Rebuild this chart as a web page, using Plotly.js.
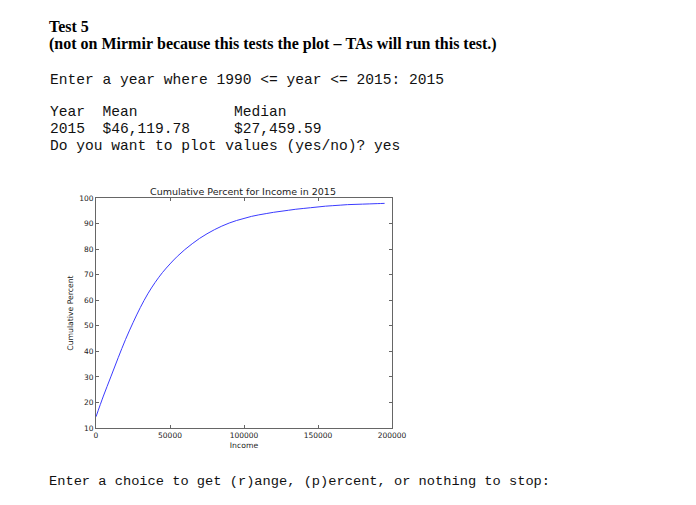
<!DOCTYPE html>
<html>
<head>
<meta charset="utf-8">
<script src="https://cdn.plot.ly/plotly-3.0.1.min.js"></script>
<style>
  html, body { margin: 0; padding: 0; background: #fff; }
  #chart { width: 696px; height: 505px; }
</style>
</head>
<body>
<div id="chart"></div>
<script>
// ---- data ----
const incomeValues = [0, 5000, 10000, 15000, 20000, 25000, 30000, 35000, 40000, 45000,
  50000, 55000, 60000, 65000, 70000, 75000, 80000, 85000, 90000, 95000,
  100000, 105000, 110000, 115000, 120000, 125000, 130000, 135000, 140000, 145000,
  150000, 155000, 160000, 165000, 170000, 175000, 180000, 185000, 190000, 195000];
const cumulativePercent = [14.4, 22.5, 30.0, 37.5, 44.7, 51.2, 57.2, 62.5, 67.0, 70.9,
  74.2, 77.2, 79.8, 82.1, 84.2, 86.0, 87.6, 89.0, 90.2, 91.2,
  92.0, 92.8, 93.4, 93.9, 94.4, 94.8, 95.2, 95.6, 95.9, 96.2,
  96.5, 96.8, 97.0, 97.2, 97.4, 97.5, 97.6, 97.7, 97.8, 97.9];
const xTickVals = [0, 50000, 100000, 150000, 200000];
const xTickText = ['0', '50000', '100000', '150000', '200000'];
const yTickVals = [10, 20, 30, 40, 50, 60, 70, 80, 90, 100];
const yTickText = ['10', '20', '30', '40', '50', '60', '70', '80', '90', '100'];

const chartTitle = 'Cumulative Percent for Income in 2015';
const xLabel = 'Income';
const yLabel = 'Cumulative Percent';

const headingLines = ['Test 5',
  '(not on Mirmir because this tests the plot \u2013 TAs will run this test.)'];
const consoleLines = [
  'Enter a year where 1990 <= year <= 2015: 2015',
  'Year  Mean           Median',
  '2015  $46,119.78     $27,459.59',
  'Do you want to plot values (yes/no)? yes'];
const footerLine = 'Enter a choice to get (r)ange, (p)ercent, or nothing to stop:';

// ---- layout geometry ----
const W = 696, H = 505;
const L = 96, R = 392, T = 198, B = 428;
const px = x => (x - L) / (R - L);
const py = y => (B - y) / (B - T);
const pre = s => s.replace(/ /g, '\u00a0');

const annotations = [];
const headY = [26, 43.5];
headingLines.forEach((t, i) => annotations.push({
  text: '<b>' + pre(t) + '</b>', xref: 'paper', yref: 'paper', x: px(47), y: py(headY[i]),
  xanchor: 'left', yanchor: 'middle', showarrow: false,
  font: {family: 'Liberation Serif', size: 16, color: '#000'}
}));
const conY = [79.5, 111.8, 128.5, 146];
consoleLines.forEach((t, i) => annotations.push({
  text: pre(t), xref: 'paper', yref: 'paper', x: px(47.5), y: py(conY[i]),
  xanchor: 'left', yanchor: 'middle', showarrow: false,
  font: {family: 'Liberation Mono', size: 14.6, color: '#111'}
}));
annotations.push({
  text: pre(footerLine), xref: 'paper', yref: 'paper', x: px(46.5), y: py(481),
  xanchor: 'left', yanchor: 'middle', showarrow: false,
  font: {family: 'Liberation Mono', size: 13.7, color: '#111'}
});

const axisCommon = {
  showline: true, linecolor: '#666', linewidth: 1, mirror: 'ticks',
  ticks: 'inside', ticklen: 3, tickcolor: '#666', tickwidth: 1,
  showgrid: false, zeroline: false, fixedrange: true,
  tickfont: {family: 'DejaVu Sans', size: 7.5, color: '#222'}
};

const trace = {
  x: incomeValues, y: cumulativePercent, type: 'scatter', mode: 'lines',
  line: {color: '#3b3bff', width: 1, shape: 'spline', smoothing: 1}, hoverinfo: 'skip'
};

const layout = {
  width: W, height: H,
  margin: {l: L, r: W - R, t: T, b: H - B, pad: 0},
  paper_bgcolor: '#fff', plot_bgcolor: '#fff',
  showlegend: false,
  title: {text: chartTitle, xref: 'container', x: 243 / W, xanchor: 'center',
    yref: 'container', y: 1 - 192 / H, yanchor: 'middle',
    font: {family: 'DejaVu Sans', size: 9.5, color: '#222'}},
  xaxis: Object.assign({}, axisCommon, {
    range: [0, 200000], tickvals: xTickVals, ticktext: xTickText,
    title: {text: xLabel, standoff: 3, font: {family: 'DejaVu Sans', size: 7.7, color: '#222'}}
  }),
  yaxis: Object.assign({}, axisCommon, {
    range: [10, 100], tickvals: yTickVals, ticktext: yTickText,
    title: {text: yLabel, standoff: 4, font: {family: 'DejaVu Sans', size: 7.7, color: '#222'}}
  }),
  annotations: annotations
};

Plotly.newPlot('chart', [trace], layout, {staticPlot: true, displayModeBar: false});
</script>
</body>
</html>
